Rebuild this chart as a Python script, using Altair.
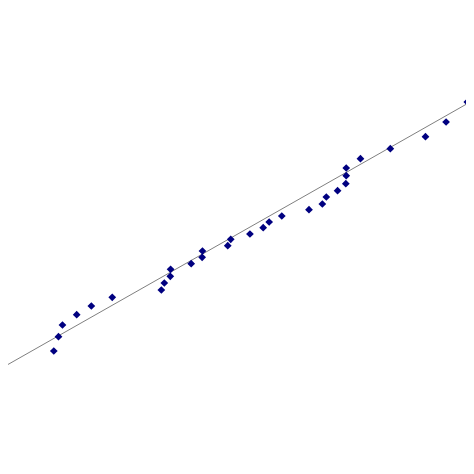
import altair as alt
import pandas as pd

# Sample points (theoretical quantile units, observed value units)
xs = [54, 58.7, 62.7, 77, 91.7, 112.7, 162, 165, 171, 171.3, 192, 203, 203.3,
      228.7, 231.7, 251, 264.3, 270.3, 283, 310.3, 323.7, 327.7, 339, 347.3,
      347.7, 347.7, 362, 392, 427.3, 448, 469.3]
ys = [123, 137.3, 149, 159.3, 168, 176.7, 184, 191, 197.7, 204.7, 210.3, 216.7,
      223, 228.3, 234.7, 240, 246.3, 252, 258, 264.3, 270, 277, 283.3, 290.3,
      298.3, 306, 315.3, 325.3, 337.3, 352, 372]

# Reference line endpoints
line_x = [0, 474]
line_y = [105, 373]

pts = pd.DataFrame({"x": xs, "y": ys})
ln = pd.DataFrame({"x": line_x, "y": line_y})

xsc = alt.Scale(domain=[8, 468], nice=False, zero=False)
ysc = alt.Scale(domain=[8, 466], nice=False, zero=False)

line = alt.Chart(ln).mark_line(color="#808080", strokeWidth=1, clip=True).encode(
    x=alt.X("x:Q", scale=xsc, axis=None),
    y=alt.Y("y:Q", scale=ysc, axis=None),
)
points = alt.Chart(pts).mark_point(shape="diamond", filled=True, color="#000080",
                                   size=60, opacity=1, clip=True).encode(
    x=alt.X("x:Q", scale=xsc, axis=None),
    y=alt.Y("y:Q", scale=ysc, axis=None),
)

chart = (line + points).properties(
    width=458, height=458, padding=0, autosize=alt.AutoSizeParams(type="none")
).configure_view(stroke=None)

chart.save("out.html", embed_options={"renderer": "svg", "actions": False})
